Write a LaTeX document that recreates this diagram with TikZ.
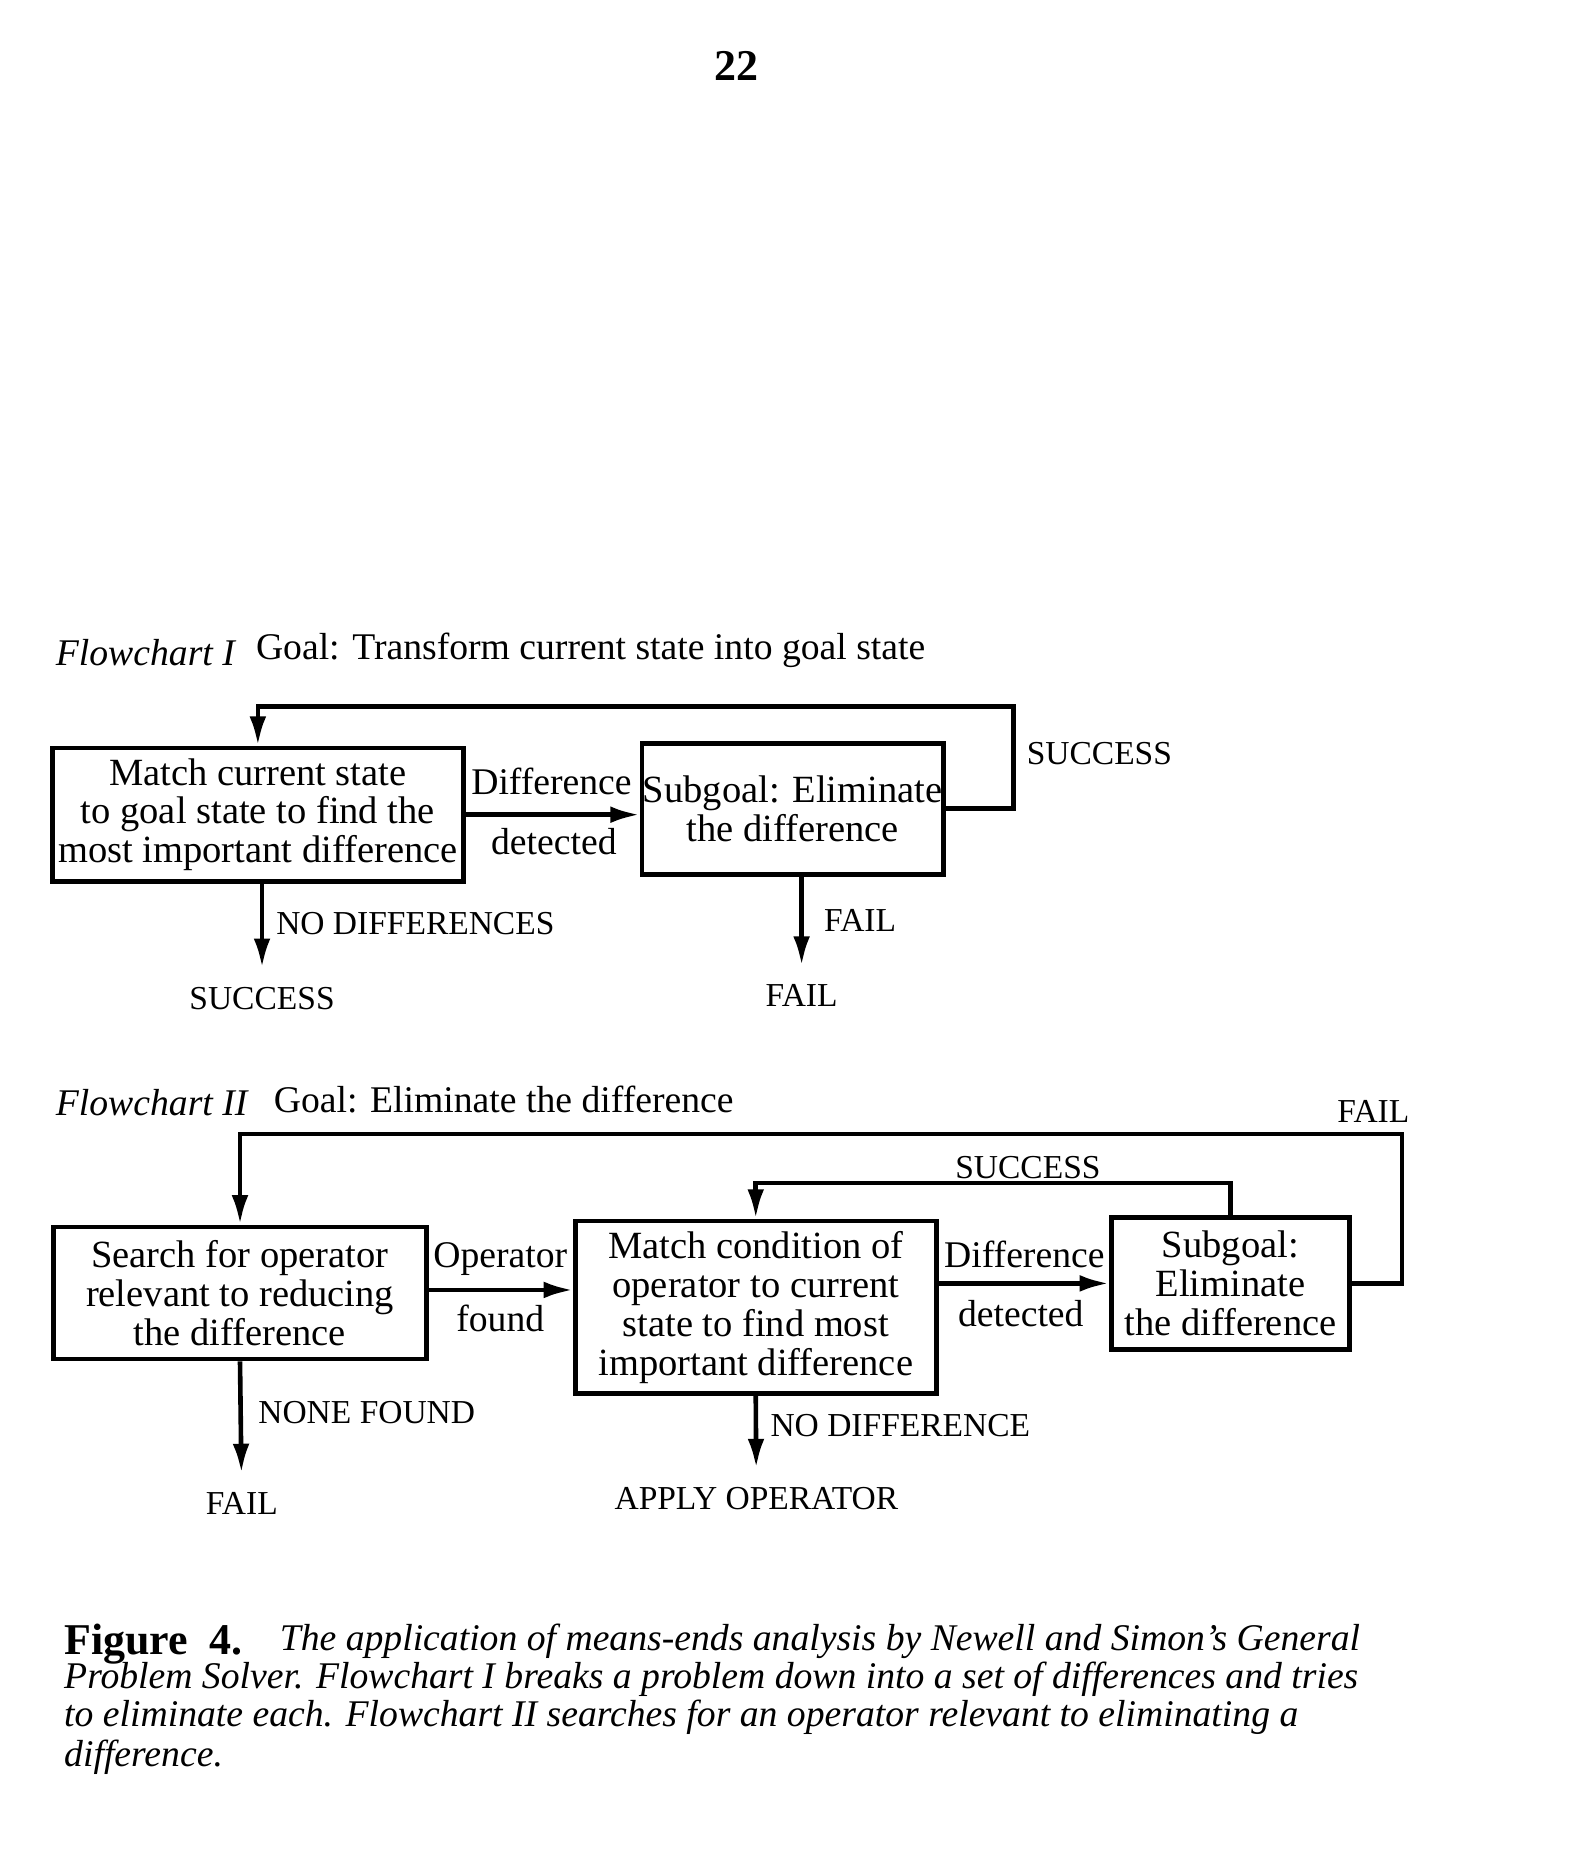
\documentclass[tikz,border=0pt]{standalone}
\usepackage{fontspec}
\setmainfont{Liberation Serif}
\usetikzlibrary{arrows.meta}
\begin{document}
\begin{tikzpicture}[x=0.1mm,y=-0.1mm,line width=1.1pt,
  box/.style={draw,align=center,inner sep=0pt,font=\fontsize{9.2}{9.3}\selectfont},
  txt/.style={inner sep=0pt,font=\fontsize{9}{9}\selectfont},
  caps/.style={inner sep=0pt,font=\fontsize{8}{8}\selectfont},
  endnode/.style={inner sep=4pt,font=\fontsize{8}{8}\selectfont},
  arr/.style={-{Latex[length=7pt,width=4pt]}}]
\useasboundingbox (0,0) rectangle (1330,1570);
%page number
\node[font=\bfseries\fontsize{10.5}{10.5}\selectfont] (page) at (618,55) {22};
%Flowchart I
\node[txt,anchor=west] (title1) at (45,548) {\textit{Flowchart I}};
\node[txt,anchor=west] (goal1) at (213,546) {Goal: Transform current state into goal state};
\node[box,minimum width=34.5mm,minimum height=11.2mm] (match1) at (216.5,684)
  {Match current state\\to goal state to find the\\most important difference};
\node[box,minimum width=25.3mm,minimum height=11mm] (sub1) at (665.5,679)
  {Subgoal: Eliminate\\the difference};
\node[endnode] (succ1) at (220,838) {SUCCESS};
\node[endnode] (fail1) at (673,836) {FAIL};
\coordinate (loop1) at (851,593);
\draw[arr] (match1.east) -- (match1.east -| sub1.west);
\draw[arr] (sub1.east) -| (loop1) -| (match1.north);
\draw[arr] (succ1.north |- match1.south) -- (succ1);
\draw[arr] (fail1.north |- sub1.south) -- (fail1);
\node[txt] (diff1) at (463,656) {Difference};
\node[txt] (det1) at (465,707) {detected};
\node[caps] (ok1) at (923,633) {SUCCESS};
\node[caps,anchor=west] (nodiff1) at (230,775) {NO DIFFERENCES};
\node[caps,anchor=west] (nok1) at (690,773) {FAIL};
%Flowchart II
\node[txt,anchor=west] (title2) at (45,926) {\textit{Flowchart II}};
\node[txt,anchor=west] (goal2) at (228,923) {Goal: Eliminate the difference};
\node[box,minimum width=31.3mm,minimum height=11.1mm] (search2) at (201.5,1085.5)
  {Search for operator\\relevant to reducing\\the difference};
\node[box,minimum width=30.3mm,minimum height=14.5mm] (match2) at (634.5,1097.5)
  {Match condition of\\operator to current\\state to find most\\important difference};
\node[box,minimum width=20mm,minimum height=11.1mm] (sub2) at (1033,1077.5)
  {Subgoal:\\Eliminate\\the difference};
\node[endnode] (fail2) at (203,1262) {FAIL};
\node[endnode] (apply2) at (635,1258) {APPLY OPERATOR};
\coordinate (loop2) at (1177,952);
\draw[arr] (search2.east |- 0,1083) -- (match2.west |- 0,1083);
\draw[arr] (match2.east |- sub2.west) -- (sub2.west);
\draw[arr] (sub2.north) -- ++(0,-27) -| (match2.north);
\draw[arr] (sub2.east) -| (loop2) -| (search2.north);
\draw[arr] (search2.south) -- (fail2);
\draw[arr] (match2.south) -- (apply2);
\node[txt] (op2) at (420,1057) {Operator};
\node[txt] (found2) at (420,1107) {found};
\node[txt] (diff2) at (860,1053) {Difference};
\node[txt] (det2) at (857,1103) {detected};
\node[caps] (ok2) at (863,980) {SUCCESS};
\node[caps] (nok2) at (1153,933) {FAIL};
\node[caps,anchor=west] (none2) at (215,1186) {NONE FOUND};
\node[caps,anchor=west] (nodiff2) at (645,1197) {NO DIFFERENCE};
%caption
\node[txt,anchor=west,font=\bfseries\fontsize{10.5}{10.5}\selectfont] (fig) at (52,1380) {Figure\ \ 4.};
\node[txt,anchor=west,font=\itshape\fontsize{9}{9}\selectfont] (cap1) at (233,1378)
  {The application of means-ends analysis by Newell and Simon's General};
\node[txt,anchor=west,font=\itshape\fontsize{9}{9}\selectfont] (cap2) at (52,1410)
  {Problem Solver. Flowchart I breaks a problem down into a set of differences and tries};
\node[txt,anchor=west,font=\itshape\fontsize{9}{9}\selectfont] (cap3) at (52,1442)
  {to eliminate each. Flowchart II searches for an operator relevant to eliminating a};
\node[txt,anchor=west,font=\itshape\fontsize{9}{9}\selectfont] (cap4) at (52,1475)
  {difference.};
\end{tikzpicture}
\end{document}
